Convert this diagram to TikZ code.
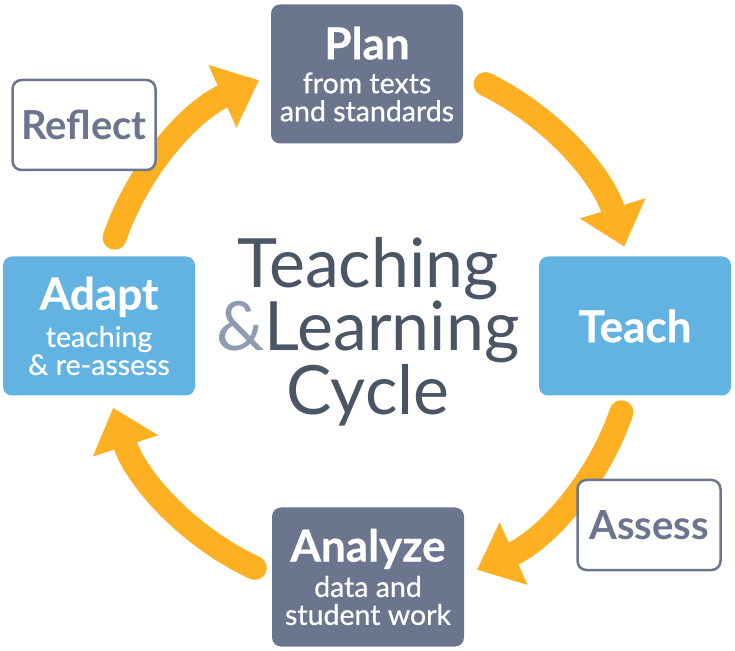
\documentclass[tikz,border=0pt]{standalone}
\usepackage{fontspec}
\setmainfont{Lato}
\usetikzlibrary{arrows.meta}
\definecolor{slate}{RGB}{107,117,142}
\definecolor{sky}{RGB}{98,179,226}
\definecolor{amber}{RGB}{253,176,34}
\definecolor{ink}{RGB}{74,85,102}
\definecolor{mist}{RGB}{143,154,181}
\newcommand{\ttl}{\fontsize{44}{46}\selectfont\bfseries}
\newcommand{\sub}{\fontsize{28.5}{28}\selectfont\addfontfeature{FakeBold=0.6}}
\begin{document}
\begin{tikzpicture}[x=1pt,y=1pt,
  stage/.style={rounded corners=9pt,text=white,minimum width=192pt,minimum height=139pt,
    align=center,font=\sub,inner sep=0pt},
  note/.style={draw=slate,line width=2.5pt,fill=white,rounded corners=9pt,text=slate,
    minimum width=143pt,minimum height=90pt,font=\fontsize{40}{42}\selectfont\bfseries,inner sep=0pt},
  cyc/.style={amber,line width=24pt,line cap=round,-{Triangle[length=40pt,width=66pt]}}]
\useasboundingbox (0,0) rectangle (735,650);
\coordinate (c) at (368,325);
% arrows round the cycle
\foreach \s in {161,64,-19,-115}
{
\draw[cyc] ([shift={(\s:268)}]c) arc[start angle=\s, delta angle=-47, radius=268pt];
}
% stages
\node[stage,fill=slate] (plan) at (367,576) {{\ttl Plan}\\[6pt]from texts\\and standards};
\node[stage,fill=sky] (teach) at (635,324) {{\ttl Teach}};
\node[stage,fill=slate] (analyze) at (368,73) {{\ttl Analyze}\\[6pt]data and\\student work};
\node[stage,fill=sky] (adapt) at (99,324) {{\ttl Adapt}\\[8pt]teaching\\\& re-assess};
\node[note] (reflect) at (84,525) {Reflect};
\node[note] (assess) at (649,125) {Assess};
% title in the middle
\node[font=\fontsize{68}{60}\selectfont,text=ink,align=center] (title) at (368,318)
  {Teaching\\{\color{mist}\&}Learning\\Cycle};
\end{tikzpicture}
\end{document}
